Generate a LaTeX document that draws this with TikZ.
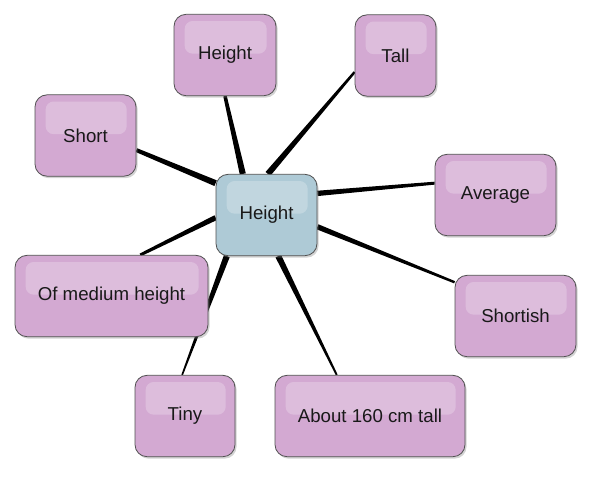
\documentclass[tikz,border=0pt]{standalone}
\usepackage{fontspec}
\setmainfont{Liberation Sans}
\usepackage{tikz}
\usetikzlibrary{calc, shadows}
\pgfdeclarelayer{back}
\pgfsetlayers{back,main}

\definecolor{leaffill}{HTML}{D3A9D2}
\definecolor{hubfill}{HTML}{AECAD6}
\definecolor{rim}{HTML}{505050}

% tapered spoke: from, to, half width at start, half width at end
\newcommand{\spoke}[4]{%
  \fill ($(#1)!#3!90:(#2)$) -- ($(#2)!#4!-90:(#1)$) -- ($(#2)!#4!90:(#1)$) -- ($(#1)!#3!-90:(#2)$) -- cycle;
}

\tikzset{
  box/.style={draw=rim, line width=0.6pt, rounded corners=9pt, inner sep=0pt,
    minimum height=61pt, text=black!90, font=\fontsize{14}{16}\selectfont,
    drop shadow={shadow xshift=1.2pt, shadow yshift=-1.5pt, opacity=0.35},
    path picture={\fill[white, opacity=0.24, rounded corners=6pt]
      ($(path picture bounding box.north west)+(8pt,-5pt)$) rectangle
      ($(path picture bounding box.east)+(-7pt,1pt)$);}},
  leaf/.style={box, fill=leaffill},
  hubbox/.style={box, fill=hubfill}
}

\begin{document}
\begin{tikzpicture}[x=0.75pt, y=-0.75pt]
    \useasboundingbox (0,0) rectangle (600,480);

    \node[hubbox, minimum width=75.75pt] (hub) at (266.5,215) {Height};

    \node[leaf, minimum width=76.5pt]  (top)      at (225,55)    {Height};
    \node[leaf, minimum width=60.75pt] (tall)     at (395.5,55.5) {Tall};
    \node[leaf, minimum width=75.75pt] (short)    at (85.5,135.5) {Short};
    \node[leaf, minimum width=90.75pt] (avg)      at (495.5,195) {Average};
    \node[leaf, minimum width=144.75pt] (medium)  at (111.5,296) {Of medium height};
    \node[leaf, minimum width=90.75pt] (shortish) at (515.5,316) {Shortish};
    \node[leaf, minimum width=75pt]    (tiny)     at (185,416)   {Tiny};
    \node[leaf, minimum width=142.5pt] (about)    at (370,416)   {About 160 cm tall};

    \begin{pgfonlayer}{back}
    \spoke{hub.120}{top.south}{2.3pt}{1.3pt}
    \spoke{hub.88}{tall.202}{2.3pt}{0.9pt}
    \spoke{hub.148}{short.-16}{2.3pt}{1.5pt}
    \spoke{hub.23}{avg.169}{2pt}{1.1pt}
    \spoke{hub.-13}{shortish.151}{2pt}{0.9pt}
    \spoke{hub.183}{medium.55}{2pt}{1.1pt}
    \spoke{hub.226}{tiny.94}{2.3pt}{0.6pt}
    \spoke{hub.286}{about.129}{2.3pt}{0.7pt}
    \end{pgfonlayer}
\end{tikzpicture}
\end{document}
